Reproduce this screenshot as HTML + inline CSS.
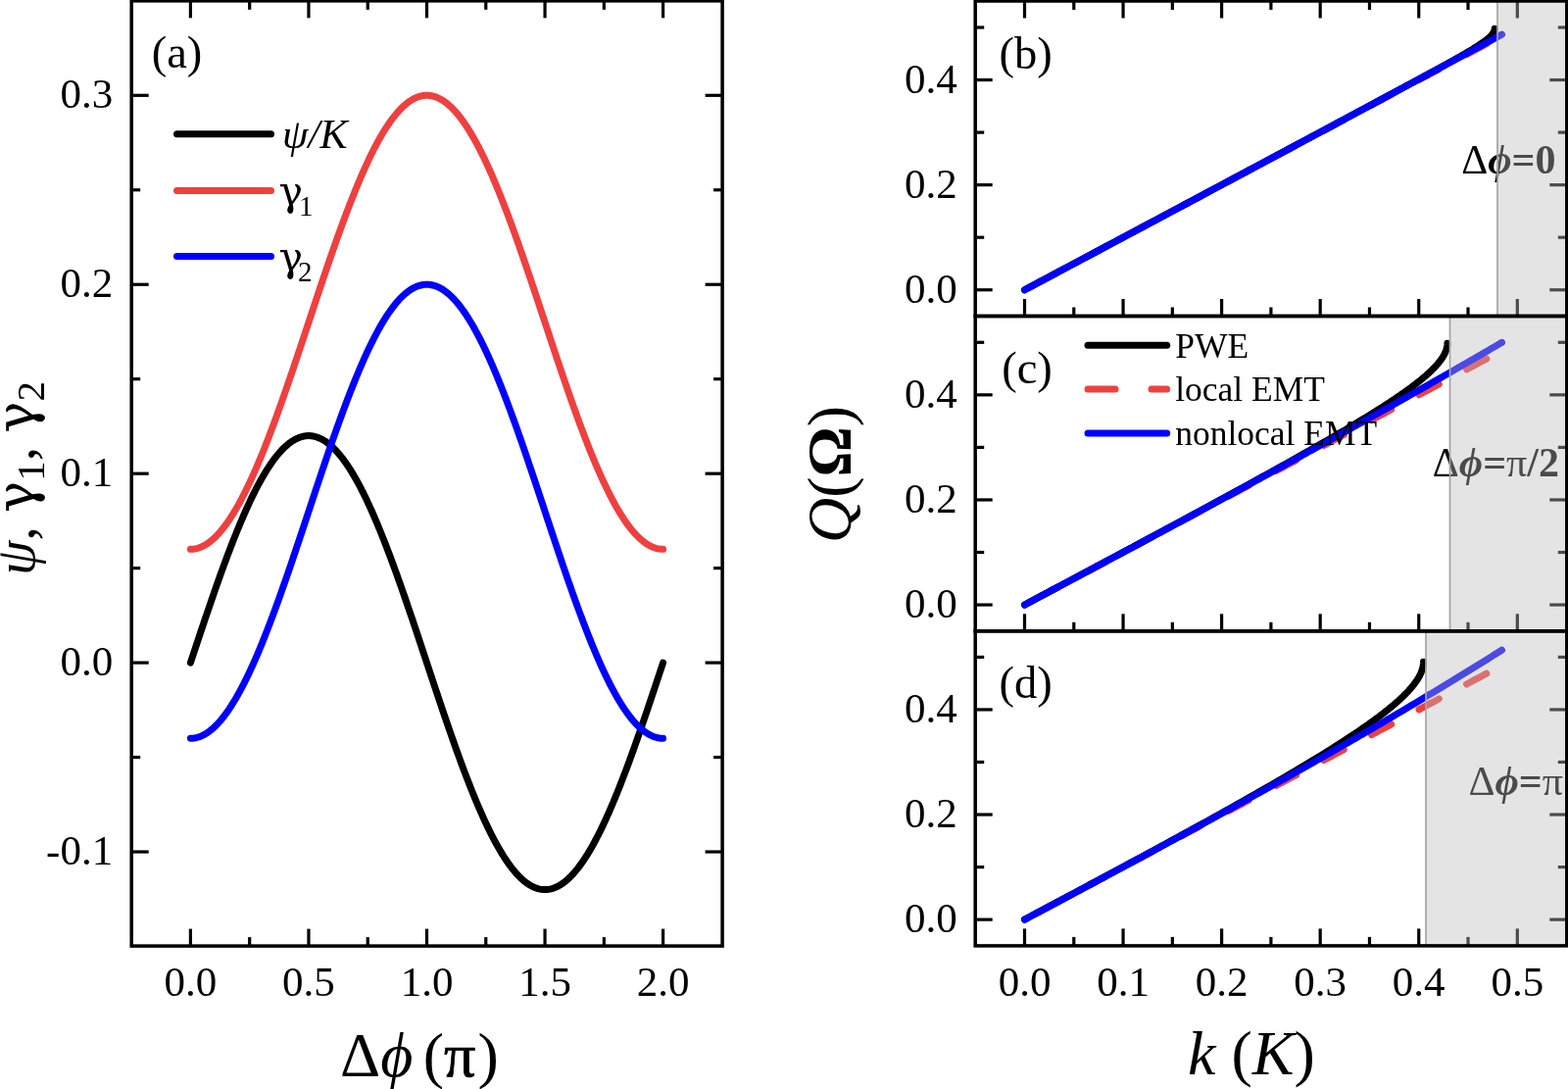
<!DOCTYPE html>
<html><head><meta charset="utf-8"><title>figure</title>
<style>html,body{margin:0;padding:0;background:#fff;}svg{display:block;}</style>
</head><body>
<svg width="1600" height="1111" viewBox="0 0 1600 1111">
<rect width="1600" height="1111" fill="#fff"/>
<g font-family="'Liberation Serif','Times New Roman',serif" fill="#000">
<line x1="194.4" y1="965.1" x2="194.4" y2="947.6" stroke="#000" stroke-width="3.2" stroke-linecap="butt"/>
<line x1="194.4" y1="0.85" x2="194.4" y2="18.35" stroke="#000" stroke-width="3.2" stroke-linecap="butt"/>
<line x1="254.68" y1="965.1" x2="254.68" y2="956.1" stroke="#000" stroke-width="3.2" stroke-linecap="butt"/>
<line x1="254.68" y1="0.85" x2="254.68" y2="9.85" stroke="#000" stroke-width="3.2" stroke-linecap="butt"/>
<line x1="314.95" y1="965.1" x2="314.95" y2="947.6" stroke="#000" stroke-width="3.2" stroke-linecap="butt"/>
<line x1="314.95" y1="0.85" x2="314.95" y2="18.35" stroke="#000" stroke-width="3.2" stroke-linecap="butt"/>
<line x1="375.23" y1="965.1" x2="375.23" y2="956.1" stroke="#000" stroke-width="3.2" stroke-linecap="butt"/>
<line x1="375.23" y1="0.85" x2="375.23" y2="9.85" stroke="#000" stroke-width="3.2" stroke-linecap="butt"/>
<line x1="435.5" y1="965.1" x2="435.5" y2="947.6" stroke="#000" stroke-width="3.2" stroke-linecap="butt"/>
<line x1="435.5" y1="0.85" x2="435.5" y2="18.35" stroke="#000" stroke-width="3.2" stroke-linecap="butt"/>
<line x1="495.77" y1="965.1" x2="495.77" y2="956.1" stroke="#000" stroke-width="3.2" stroke-linecap="butt"/>
<line x1="495.77" y1="0.85" x2="495.77" y2="9.85" stroke="#000" stroke-width="3.2" stroke-linecap="butt"/>
<line x1="556.05" y1="965.1" x2="556.05" y2="947.6" stroke="#000" stroke-width="3.2" stroke-linecap="butt"/>
<line x1="556.05" y1="0.85" x2="556.05" y2="18.35" stroke="#000" stroke-width="3.2" stroke-linecap="butt"/>
<line x1="616.33" y1="965.1" x2="616.33" y2="956.1" stroke="#000" stroke-width="3.2" stroke-linecap="butt"/>
<line x1="616.33" y1="0.85" x2="616.33" y2="9.85" stroke="#000" stroke-width="3.2" stroke-linecap="butt"/>
<line x1="676.6" y1="965.1" x2="676.6" y2="947.6" stroke="#000" stroke-width="3.2" stroke-linecap="butt"/>
<line x1="676.6" y1="0.85" x2="676.6" y2="18.35" stroke="#000" stroke-width="3.2" stroke-linecap="butt"/>
<line x1="134.2" y1="869.03" x2="151.7" y2="869.03" stroke="#000" stroke-width="3.2" stroke-linecap="butt"/>
<line x1="737.1" y1="869.03" x2="719.6" y2="869.03" stroke="#000" stroke-width="3.2" stroke-linecap="butt"/>
<line x1="134.2" y1="772.57" x2="143.2" y2="772.57" stroke="#000" stroke-width="3.2" stroke-linecap="butt"/>
<line x1="737.1" y1="772.57" x2="728.1" y2="772.57" stroke="#000" stroke-width="3.2" stroke-linecap="butt"/>
<line x1="134.2" y1="676.1" x2="151.7" y2="676.1" stroke="#000" stroke-width="3.2" stroke-linecap="butt"/>
<line x1="737.1" y1="676.1" x2="719.6" y2="676.1" stroke="#000" stroke-width="3.2" stroke-linecap="butt"/>
<line x1="134.2" y1="579.63" x2="143.2" y2="579.63" stroke="#000" stroke-width="3.2" stroke-linecap="butt"/>
<line x1="737.1" y1="579.63" x2="728.1" y2="579.63" stroke="#000" stroke-width="3.2" stroke-linecap="butt"/>
<line x1="134.2" y1="483.17" x2="151.7" y2="483.17" stroke="#000" stroke-width="3.2" stroke-linecap="butt"/>
<line x1="737.1" y1="483.17" x2="719.6" y2="483.17" stroke="#000" stroke-width="3.2" stroke-linecap="butt"/>
<line x1="134.2" y1="386.7" x2="143.2" y2="386.7" stroke="#000" stroke-width="3.2" stroke-linecap="butt"/>
<line x1="737.1" y1="386.7" x2="728.1" y2="386.7" stroke="#000" stroke-width="3.2" stroke-linecap="butt"/>
<line x1="134.2" y1="290.24" x2="151.7" y2="290.24" stroke="#000" stroke-width="3.2" stroke-linecap="butt"/>
<line x1="737.1" y1="290.24" x2="719.6" y2="290.24" stroke="#000" stroke-width="3.2" stroke-linecap="butt"/>
<line x1="134.2" y1="193.78" x2="143.2" y2="193.78" stroke="#000" stroke-width="3.2" stroke-linecap="butt"/>
<line x1="737.1" y1="193.78" x2="728.1" y2="193.78" stroke="#000" stroke-width="3.2" stroke-linecap="butt"/>
<line x1="134.2" y1="97.31" x2="151.7" y2="97.31" stroke="#000" stroke-width="3.2" stroke-linecap="butt"/>
<line x1="737.1" y1="97.31" x2="719.6" y2="97.31" stroke="#000" stroke-width="3.2" stroke-linecap="butt"/>
<path d="M194.4 676.1 L195.61 672.46 L196.81 668.83 L198.02 665.19 L199.22 661.56 L200.43 657.94 L201.63 654.31 L202.84 650.69 L204.04 647.08 L205.25 643.48 L206.46 639.88 L207.66 636.3 L208.87 632.72 L210.07 629.15 L211.28 625.6 L212.48 622.05 L213.69 618.52 L214.89 615.01 L216.1 611.51 L217.3 608.02 L218.51 604.56 L219.72 601.11 L220.92 597.68 L222.13 594.26 L223.33 590.87 L224.54 587.5 L225.74 584.15 L226.95 580.83 L228.15 577.53 L229.36 574.25 L230.56 570.99 L231.77 567.77 L232.98 564.57 L234.18 561.39 L235.39 558.25 L236.59 555.13 L237.8 552.05 L239 548.99 L240.21 545.97 L241.41 542.98 L242.62 540.02 L243.83 537.09 L245.03 534.2 L246.24 531.35 L247.44 528.53 L248.65 525.74 L249.85 523 L251.06 520.29 L252.26 517.62 L253.47 514.99 L254.68 512.39 L255.88 509.84 L257.09 507.33 L258.29 504.86 L259.5 502.44 L260.7 500.05 L261.91 497.71 L263.11 495.42 L264.32 493.17 L265.52 490.96 L266.73 488.8 L267.94 486.69 L269.14 484.62 L270.35 482.6 L271.55 480.62 L272.76 478.7 L273.96 476.82 L275.17 475 L276.37 473.22 L277.58 471.49 L278.79 469.82 L279.99 468.19 L281.2 466.62 L282.4 465.1 L283.61 463.63 L284.81 462.21 L286.02 460.84 L287.22 459.53 L288.43 458.27 L289.63 457.07 L290.84 455.92 L292.05 454.82 L293.25 453.78 L294.46 452.79 L295.66 451.86 L296.87 450.98 L298.07 450.16 L299.28 449.39 L300.48 448.68 L301.69 448.03 L302.89 447.43 L304.1 446.89 L305.31 446.41 L306.51 445.98 L307.72 445.61 L308.92 445.3 L310.13 445.04 L311.33 444.84 L312.54 444.7 L313.74 444.61 L314.95 444.58 L316.16 444.61 L317.36 444.7 L318.57 444.84 L319.77 445.04 L320.98 445.3 L322.18 445.61 L323.39 445.98 L324.59 446.41 L325.8 446.89 L327 447.43 L328.21 448.03 L329.42 448.68 L330.62 449.39 L331.83 450.16 L333.03 450.98 L334.24 451.86 L335.44 452.79 L336.65 453.78 L337.85 454.82 L339.06 455.92 L340.27 457.07 L341.47 458.27 L342.68 459.53 L343.88 460.84 L345.09 462.21 L346.29 463.63 L347.5 465.1 L348.7 466.62 L349.91 468.19 L351.12 469.82 L352.32 471.49 L353.53 473.22 L354.73 475 L355.94 476.82 L357.14 478.7 L358.35 480.62 L359.55 482.6 L360.76 484.62 L361.96 486.69 L363.17 488.8 L364.38 490.96 L365.58 493.17 L366.79 495.42 L367.99 497.71 L369.2 500.05 L370.4 502.44 L371.61 504.86 L372.81 507.33 L374.02 509.84 L375.23 512.39 L376.43 514.99 L377.64 517.62 L378.84 520.29 L380.05 523 L381.25 525.74 L382.46 528.53 L383.66 531.35 L384.87 534.2 L386.07 537.09 L387.28 540.02 L388.49 542.98 L389.69 545.97 L390.9 548.99 L392.1 552.05 L393.31 555.13 L394.51 558.25 L395.72 561.39 L396.92 564.57 L398.13 567.77 L399.34 570.99 L400.54 574.25 L401.75 577.53 L402.95 580.83 L404.16 584.15 L405.36 587.5 L406.57 590.87 L407.77 594.26 L408.98 597.68 L410.18 601.11 L411.39 604.56 L412.6 608.02 L413.8 611.51 L415.01 615.01 L416.21 618.52 L417.42 622.05 L418.62 625.6 L419.83 629.15 L421.03 632.72 L422.24 636.3 L423.45 639.88 L424.65 643.48 L425.86 647.08 L427.06 650.69 L428.27 654.31 L429.47 657.94 L430.68 661.56 L431.88 665.19 L433.09 668.83 L434.29 672.46 L435.5 676.1 L436.71 679.74 L437.91 683.37 L439.12 687.01 L440.32 690.64 L441.53 694.26 L442.73 697.89 L443.94 701.51 L445.14 705.12 L446.35 708.72 L447.56 712.32 L448.76 715.9 L449.97 719.48 L451.17 723.05 L452.38 726.6 L453.58 730.15 L454.79 733.68 L455.99 737.19 L457.2 740.69 L458.4 744.18 L459.61 747.64 L460.82 751.09 L462.02 754.52 L463.23 757.94 L464.43 761.33 L465.64 764.7 L466.84 768.05 L468.05 771.37 L469.25 774.67 L470.46 777.95 L471.67 781.21 L472.87 784.43 L474.08 787.63 L475.28 790.81 L476.49 793.95 L477.69 797.07 L478.9 800.15 L480.1 803.21 L481.31 806.23 L482.51 809.22 L483.72 812.18 L484.93 815.11 L486.13 818 L487.34 820.85 L488.54 823.67 L489.75 826.46 L490.95 829.2 L492.16 831.91 L493.36 834.58 L494.57 837.21 L495.77 839.81 L496.98 842.36 L498.19 844.87 L499.39 847.34 L500.6 849.76 L501.8 852.15 L503.01 854.49 L504.21 856.78 L505.42 859.03 L506.62 861.24 L507.83 863.4 L509.04 865.51 L510.24 867.58 L511.45 869.6 L512.65 871.58 L513.86 873.5 L515.06 875.38 L516.27 877.2 L517.47 878.98 L518.68 880.71 L519.88 882.38 L521.09 884.01 L522.3 885.58 L523.5 887.1 L524.71 888.57 L525.91 889.99 L527.12 891.36 L528.32 892.67 L529.53 893.93 L530.73 895.13 L531.94 896.28 L533.15 897.38 L534.35 898.42 L535.56 899.41 L536.76 900.34 L537.97 901.22 L539.17 902.04 L540.38 902.81 L541.58 903.52 L542.79 904.17 L544 904.77 L545.2 905.31 L546.41 905.79 L547.61 906.22 L548.82 906.59 L550.02 906.9 L551.23 907.16 L552.43 907.36 L553.64 907.5 L554.84 907.59 L556.05 907.62 L557.26 907.59 L558.46 907.5 L559.67 907.36 L560.87 907.16 L562.08 906.9 L563.28 906.59 L564.49 906.22 L565.69 905.79 L566.9 905.31 L568.11 904.77 L569.31 904.17 L570.52 903.52 L571.72 902.81 L572.93 902.04 L574.13 901.22 L575.34 900.34 L576.54 899.41 L577.75 898.42 L578.95 897.38 L580.16 896.28 L581.37 895.13 L582.57 893.93 L583.78 892.67 L584.98 891.36 L586.19 889.99 L587.39 888.57 L588.6 887.1 L589.8 885.58 L591.01 884.01 L592.22 882.38 L593.42 880.71 L594.63 878.98 L595.83 877.2 L597.04 875.38 L598.24 873.5 L599.45 871.58 L600.65 869.6 L601.86 867.58 L603.06 865.51 L604.27 863.4 L605.48 861.24 L606.68 859.03 L607.89 856.78 L609.09 854.49 L610.3 852.15 L611.5 849.76 L612.71 847.34 L613.91 844.87 L615.12 842.36 L616.33 839.81 L617.53 837.21 L618.74 834.58 L619.94 831.91 L621.15 829.2 L622.35 826.46 L623.56 823.67 L624.76 820.85 L625.97 818 L627.17 815.11 L628.38 812.18 L629.59 809.22 L630.79 806.23 L632 803.21 L633.2 800.15 L634.41 797.07 L635.61 793.95 L636.82 790.81 L638.02 787.63 L639.23 784.43 L640.44 781.21 L641.64 777.95 L642.85 774.67 L644.05 771.37 L645.26 768.05 L646.46 764.7 L647.67 761.33 L648.87 757.94 L650.08 754.52 L651.28 751.09 L652.49 747.64 L653.7 744.18 L654.9 740.69 L656.11 737.19 L657.31 733.68 L658.52 730.15 L659.72 726.6 L660.93 723.05 L662.13 719.48 L663.34 715.9 L664.54 712.32 L665.75 708.72 L666.96 705.12 L668.16 701.51 L669.37 697.89 L670.57 694.26 L671.78 690.64 L672.98 687.01 L674.19 683.37 L675.39 679.74 L676.6 676.1" fill="none" stroke="#000" stroke-width="7.0" stroke-linecap="round" stroke-linejoin="round" />
<path d="M194.4 560.34 L195.61 560.31 L196.81 560.23 L198.02 560.08 L199.22 559.89 L200.43 559.63 L201.63 559.31 L202.84 558.94 L204.04 558.52 L205.25 558.03 L206.46 557.49 L207.66 556.89 L208.87 556.24 L210.07 555.53 L211.28 554.77 L212.48 553.95 L213.69 553.07 L214.89 552.14 L216.1 551.15 L217.3 550.11 L218.51 549.01 L219.72 547.86 L220.92 546.65 L222.13 545.4 L223.33 544.08 L224.54 542.72 L225.74 541.3 L226.95 539.83 L228.15 538.31 L229.36 536.73 L230.56 535.11 L231.77 533.43 L232.98 531.71 L234.18 529.93 L235.39 528.1 L236.59 526.23 L237.8 524.3 L239 522.33 L240.21 520.31 L241.41 518.24 L242.62 516.13 L243.83 513.97 L245.03 511.76 L246.24 509.51 L247.44 507.21 L248.65 504.87 L249.85 502.49 L251.06 500.06 L252.26 497.59 L253.47 495.08 L254.68 492.53 L255.88 489.94 L257.09 487.31 L258.29 484.64 L259.5 481.93 L260.7 479.18 L261.91 476.4 L263.11 473.58 L264.32 470.72 L265.52 467.83 L266.73 464.91 L267.94 461.95 L269.14 458.96 L270.35 455.93 L271.55 452.88 L272.76 449.79 L273.96 446.68 L275.17 443.53 L276.37 440.36 L277.58 437.16 L278.79 433.93 L279.99 430.68 L281.2 427.4 L282.4 424.1 L283.61 420.77 L284.81 417.42 L286.02 414.05 L287.22 410.66 L288.43 407.25 L289.63 403.82 L290.84 400.37 L292.05 396.9 L293.25 393.42 L294.46 389.92 L295.66 386.4 L296.87 382.87 L298.07 379.33 L299.28 375.77 L300.48 372.21 L301.69 368.63 L302.89 365.04 L304.1 361.45 L305.31 357.84 L306.51 354.23 L307.72 350.61 L308.92 346.99 L310.13 343.36 L311.33 339.73 L312.54 336.1 L313.74 332.46 L314.95 328.83 L316.16 325.19 L317.36 321.55 L318.57 317.92 L319.77 314.29 L320.98 310.66 L322.18 307.04 L323.39 303.42 L324.59 299.81 L325.8 296.21 L327 292.61 L328.21 289.02 L329.42 285.44 L330.62 281.88 L331.83 278.32 L333.03 274.78 L334.24 271.25 L335.44 267.74 L336.65 264.24 L337.85 260.75 L339.06 257.28 L340.27 253.83 L341.47 250.4 L342.68 246.99 L343.88 243.6 L345.09 240.23 L346.29 236.88 L347.5 233.55 L348.7 230.25 L349.91 226.97 L351.12 223.72 L352.32 220.49 L353.53 217.29 L354.73 214.12 L355.94 210.97 L357.14 207.86 L358.35 204.77 L359.55 201.72 L360.76 198.69 L361.96 195.7 L363.17 192.74 L364.38 189.82 L365.58 186.93 L366.79 184.07 L367.99 181.25 L369.2 178.47 L370.4 175.72 L371.61 173.01 L372.81 170.34 L374.02 167.71 L375.23 165.12 L376.43 162.57 L377.64 160.06 L378.84 157.59 L380.05 155.16 L381.25 152.78 L382.46 150.44 L383.66 148.14 L384.87 145.89 L386.07 143.69 L387.28 141.53 L388.49 139.41 L389.69 137.34 L390.9 135.32 L392.1 133.35 L393.31 131.43 L394.51 129.55 L395.72 127.72 L396.92 125.95 L398.13 124.22 L399.34 122.54 L400.54 120.92 L401.75 119.34 L402.95 117.82 L404.16 116.35 L405.36 114.93 L406.57 113.57 L407.77 112.26 L408.98 111 L410.18 109.79 L411.39 108.64 L412.6 107.54 L413.8 106.5 L415.01 105.52 L416.21 104.58 L417.42 103.71 L418.62 102.89 L419.83 102.12 L421.03 101.41 L422.24 100.76 L423.45 100.16 L424.65 99.62 L425.86 99.14 L427.06 98.71 L428.27 98.34 L429.47 98.02 L430.68 97.77 L431.88 97.57 L433.09 97.42 L434.29 97.34 L435.5 97.31 L436.71 97.34 L437.91 97.42 L439.12 97.57 L440.32 97.77 L441.53 98.02 L442.73 98.34 L443.94 98.71 L445.14 99.14 L446.35 99.62 L447.56 100.16 L448.76 100.76 L449.97 101.41 L451.17 102.12 L452.38 102.89 L453.58 103.71 L454.79 104.58 L455.99 105.52 L457.2 106.5 L458.4 107.54 L459.61 108.64 L460.82 109.79 L462.02 111 L463.23 112.26 L464.43 113.57 L465.64 114.93 L466.84 116.35 L468.05 117.82 L469.25 119.34 L470.46 120.92 L471.67 122.54 L472.87 124.22 L474.08 125.95 L475.28 127.72 L476.49 129.55 L477.69 131.43 L478.9 133.35 L480.1 135.32 L481.31 137.34 L482.51 139.41 L483.72 141.53 L484.93 143.69 L486.13 145.89 L487.34 148.14 L488.54 150.44 L489.75 152.78 L490.95 155.16 L492.16 157.59 L493.36 160.06 L494.57 162.57 L495.77 165.12 L496.98 167.71 L498.19 170.34 L499.39 173.01 L500.6 175.72 L501.8 178.47 L503.01 181.25 L504.21 184.07 L505.42 186.93 L506.62 189.82 L507.83 192.74 L509.04 195.7 L510.24 198.69 L511.45 201.72 L512.65 204.77 L513.86 207.86 L515.06 210.97 L516.27 214.12 L517.47 217.29 L518.68 220.49 L519.88 223.72 L521.09 226.97 L522.3 230.25 L523.5 233.55 L524.71 236.88 L525.91 240.23 L527.12 243.6 L528.32 246.99 L529.53 250.4 L530.73 253.83 L531.94 257.28 L533.15 260.75 L534.35 264.24 L535.56 267.74 L536.76 271.25 L537.97 274.78 L539.17 278.32 L540.38 281.88 L541.58 285.44 L542.79 289.02 L544 292.61 L545.2 296.21 L546.41 299.81 L547.61 303.42 L548.82 307.04 L550.02 310.66 L551.23 314.29 L552.43 317.92 L553.64 321.55 L554.84 325.19 L556.05 328.83 L557.26 332.46 L558.46 336.1 L559.67 339.73 L560.87 343.36 L562.08 346.99 L563.28 350.61 L564.49 354.23 L565.69 357.84 L566.9 361.45 L568.11 365.04 L569.31 368.63 L570.52 372.21 L571.72 375.77 L572.93 379.33 L574.13 382.87 L575.34 386.4 L576.54 389.92 L577.75 393.42 L578.95 396.9 L580.16 400.37 L581.37 403.82 L582.57 407.25 L583.78 410.66 L584.98 414.05 L586.19 417.42 L587.39 420.77 L588.6 424.1 L589.8 427.4 L591.01 430.68 L592.22 433.93 L593.42 437.16 L594.63 440.36 L595.83 443.53 L597.04 446.68 L598.24 449.79 L599.45 452.88 L600.65 455.93 L601.86 458.96 L603.06 461.95 L604.27 464.91 L605.48 467.83 L606.68 470.72 L607.89 473.58 L609.09 476.4 L610.3 479.18 L611.5 481.93 L612.71 484.64 L613.91 487.31 L615.12 489.94 L616.33 492.53 L617.53 495.08 L618.74 497.59 L619.94 500.06 L621.15 502.49 L622.35 504.87 L623.56 507.21 L624.76 509.51 L625.97 511.76 L627.17 513.97 L628.38 516.13 L629.59 518.24 L630.79 520.31 L632 522.33 L633.2 524.3 L634.41 526.23 L635.61 528.1 L636.82 529.93 L638.02 531.71 L639.23 533.43 L640.44 535.11 L641.64 536.73 L642.85 538.31 L644.05 539.83 L645.26 541.3 L646.46 542.72 L647.67 544.08 L648.87 545.4 L650.08 546.65 L651.28 547.86 L652.49 549.01 L653.7 550.11 L654.9 551.15 L656.11 552.14 L657.31 553.07 L658.52 553.95 L659.72 554.77 L660.93 555.53 L662.13 556.24 L663.34 556.89 L664.54 557.49 L665.75 558.03 L666.96 558.52 L668.16 558.94 L669.37 559.31 L670.57 559.63 L671.78 559.89 L672.98 560.08 L674.19 560.23 L675.39 560.31 L676.6 560.34" fill="none" stroke="#ef4040" stroke-width="7.0" stroke-linecap="round" stroke-linejoin="round" />
<path d="M194.4 753.27 L195.61 753.24 L196.81 753.16 L198.02 753.01 L199.22 752.82 L200.43 752.56 L201.63 752.24 L202.84 751.87 L204.04 751.45 L205.25 750.96 L206.46 750.42 L207.66 749.82 L208.87 749.17 L210.07 748.46 L211.28 747.7 L212.48 746.88 L213.69 746 L214.89 745.07 L216.1 744.08 L217.3 743.04 L218.51 741.94 L219.72 740.79 L220.92 739.58 L222.13 738.33 L223.33 737.01 L224.54 735.65 L225.74 734.23 L226.95 732.76 L228.15 731.24 L229.36 729.66 L230.56 728.04 L231.77 726.36 L232.98 724.64 L234.18 722.86 L235.39 721.03 L236.59 719.16 L237.8 717.23 L239 715.26 L240.21 713.24 L241.41 711.17 L242.62 709.06 L243.83 706.9 L245.03 704.69 L246.24 702.44 L247.44 700.14 L248.65 697.8 L249.85 695.42 L251.06 692.99 L252.26 690.52 L253.47 688.01 L254.68 685.46 L255.88 682.87 L257.09 680.24 L258.29 677.57 L259.5 674.86 L260.7 672.11 L261.91 669.33 L263.11 666.51 L264.32 663.65 L265.52 660.76 L266.73 657.84 L267.94 654.88 L269.14 651.89 L270.35 648.86 L271.55 645.81 L272.76 642.72 L273.96 639.61 L275.17 636.46 L276.37 633.29 L277.58 630.09 L278.79 626.86 L279.99 623.61 L281.2 620.33 L282.4 617.03 L283.61 613.7 L284.81 610.35 L286.02 606.98 L287.22 603.59 L288.43 600.18 L289.63 596.75 L290.84 593.3 L292.05 589.83 L293.25 586.35 L294.46 582.85 L295.66 579.33 L296.87 575.8 L298.07 572.26 L299.28 568.7 L300.48 565.14 L301.69 561.56 L302.89 557.97 L304.1 554.38 L305.31 550.77 L306.51 547.16 L307.72 543.54 L308.92 539.92 L310.13 536.29 L311.33 532.66 L312.54 529.03 L313.74 525.39 L314.95 521.76 L316.16 518.12 L317.36 514.48 L318.57 510.85 L319.77 507.22 L320.98 503.59 L322.18 499.97 L323.39 496.35 L324.59 492.74 L325.8 489.14 L327 485.54 L328.21 481.95 L329.42 478.37 L330.62 474.81 L331.83 471.25 L333.03 467.71 L334.24 464.18 L335.44 460.67 L336.65 457.17 L337.85 453.68 L339.06 450.21 L340.27 446.76 L341.47 443.33 L342.68 439.92 L343.88 436.53 L345.09 433.16 L346.29 429.81 L347.5 426.48 L348.7 423.18 L349.91 419.9 L351.12 416.65 L352.32 413.42 L353.53 410.22 L354.73 407.05 L355.94 403.9 L357.14 400.79 L358.35 397.7 L359.55 394.65 L360.76 391.62 L361.96 388.63 L363.17 385.67 L364.38 382.75 L365.58 379.86 L366.79 377 L367.99 374.18 L369.2 371.4 L370.4 368.65 L371.61 365.94 L372.81 363.27 L374.02 360.64 L375.23 358.05 L376.43 355.5 L377.64 352.99 L378.84 350.52 L380.05 348.09 L381.25 345.71 L382.46 343.37 L383.66 341.07 L384.87 338.82 L386.07 336.62 L387.28 334.46 L388.49 332.34 L389.69 330.27 L390.9 328.25 L392.1 326.28 L393.31 324.36 L394.51 322.48 L395.72 320.65 L396.92 318.88 L398.13 317.15 L399.34 315.47 L400.54 313.85 L401.75 312.27 L402.95 310.75 L404.16 309.28 L405.36 307.86 L406.57 306.5 L407.77 305.19 L408.98 303.93 L410.18 302.72 L411.39 301.57 L412.6 300.47 L413.8 299.43 L415.01 298.45 L416.21 297.51 L417.42 296.64 L418.62 295.82 L419.83 295.05 L421.03 294.34 L422.24 293.69 L423.45 293.09 L424.65 292.55 L425.86 292.07 L427.06 291.64 L428.27 291.27 L429.47 290.95 L430.68 290.7 L431.88 290.5 L433.09 290.35 L434.29 290.27 L435.5 290.24 L436.71 290.27 L437.91 290.35 L439.12 290.5 L440.32 290.7 L441.53 290.95 L442.73 291.27 L443.94 291.64 L445.14 292.07 L446.35 292.55 L447.56 293.09 L448.76 293.69 L449.97 294.34 L451.17 295.05 L452.38 295.82 L453.58 296.64 L454.79 297.51 L455.99 298.45 L457.2 299.43 L458.4 300.47 L459.61 301.57 L460.82 302.72 L462.02 303.93 L463.23 305.19 L464.43 306.5 L465.64 307.86 L466.84 309.28 L468.05 310.75 L469.25 312.27 L470.46 313.85 L471.67 315.47 L472.87 317.15 L474.08 318.88 L475.28 320.65 L476.49 322.48 L477.69 324.36 L478.9 326.28 L480.1 328.25 L481.31 330.27 L482.51 332.34 L483.72 334.46 L484.93 336.62 L486.13 338.82 L487.34 341.07 L488.54 343.37 L489.75 345.71 L490.95 348.09 L492.16 350.52 L493.36 352.99 L494.57 355.5 L495.77 358.05 L496.98 360.64 L498.19 363.27 L499.39 365.94 L500.6 368.65 L501.8 371.4 L503.01 374.18 L504.21 377 L505.42 379.86 L506.62 382.75 L507.83 385.67 L509.04 388.63 L510.24 391.62 L511.45 394.65 L512.65 397.7 L513.86 400.79 L515.06 403.9 L516.27 407.05 L517.47 410.22 L518.68 413.42 L519.88 416.65 L521.09 419.9 L522.3 423.18 L523.5 426.48 L524.71 429.81 L525.91 433.16 L527.12 436.53 L528.32 439.92 L529.53 443.33 L530.73 446.76 L531.94 450.21 L533.15 453.68 L534.35 457.17 L535.56 460.67 L536.76 464.18 L537.97 467.71 L539.17 471.25 L540.38 474.81 L541.58 478.37 L542.79 481.95 L544 485.54 L545.2 489.14 L546.41 492.74 L547.61 496.35 L548.82 499.97 L550.02 503.59 L551.23 507.22 L552.43 510.85 L553.64 514.48 L554.84 518.12 L556.05 521.76 L557.26 525.39 L558.46 529.03 L559.67 532.66 L560.87 536.29 L562.08 539.92 L563.28 543.54 L564.49 547.16 L565.69 550.77 L566.9 554.38 L568.11 557.97 L569.31 561.56 L570.52 565.14 L571.72 568.7 L572.93 572.26 L574.13 575.8 L575.34 579.33 L576.54 582.85 L577.75 586.35 L578.95 589.83 L580.16 593.3 L581.37 596.75 L582.57 600.18 L583.78 603.59 L584.98 606.98 L586.19 610.35 L587.39 613.7 L588.6 617.03 L589.8 620.33 L591.01 623.61 L592.22 626.86 L593.42 630.09 L594.63 633.29 L595.83 636.46 L597.04 639.61 L598.24 642.72 L599.45 645.81 L600.65 648.86 L601.86 651.89 L603.06 654.88 L604.27 657.84 L605.48 660.76 L606.68 663.65 L607.89 666.51 L609.09 669.33 L610.3 672.11 L611.5 674.86 L612.71 677.57 L613.91 680.24 L615.12 682.87 L616.33 685.46 L617.53 688.01 L618.74 690.52 L619.94 692.99 L621.15 695.42 L622.35 697.8 L623.56 700.14 L624.76 702.44 L625.97 704.69 L627.17 706.9 L628.38 709.06 L629.59 711.17 L630.79 713.24 L632 715.26 L633.2 717.23 L634.41 719.16 L635.61 721.03 L636.82 722.86 L638.02 724.64 L639.23 726.36 L640.44 728.04 L641.64 729.66 L642.85 731.24 L644.05 732.76 L645.26 734.23 L646.46 735.65 L647.67 737.01 L648.87 738.33 L650.08 739.58 L651.28 740.79 L652.49 741.94 L653.7 743.04 L654.9 744.08 L656.11 745.07 L657.31 746 L658.52 746.88 L659.72 747.7 L660.93 748.46 L662.13 749.17 L663.34 749.82 L664.54 750.42 L665.75 750.96 L666.96 751.45 L668.16 751.87 L669.37 752.24 L670.57 752.56 L671.78 752.82 L672.98 753.01 L674.19 753.16 L675.39 753.24 L676.6 753.27" fill="none" stroke="#0000ff" stroke-width="7.0" stroke-linecap="round" stroke-linejoin="round" />
<rect x="134.2" y="0.85" width="602.9" height="964.25" fill="none" stroke="#000" stroke-width="3.5"/>
<text x="115.2" y="882.03" font-size="43.0" text-anchor="end" >-0.1</text>
<text x="115.2" y="689.1" font-size="43.0" text-anchor="end" >0.0</text>
<text x="115.2" y="496.17" font-size="43.0" text-anchor="end" >0.1</text>
<text x="115.2" y="303.24" font-size="43.0" text-anchor="end" >0.2</text>
<text x="115.2" y="110.31" font-size="43.0" text-anchor="end" >0.3</text>
<text x="194.4" y="1016.4" font-size="43.0" text-anchor="middle" >0.0</text>
<text x="314.95" y="1016.4" font-size="43.0" text-anchor="middle" >0.5</text>
<text x="435.5" y="1016.4" font-size="43.0" text-anchor="middle" >1.0</text>
<text x="556.05" y="1016.4" font-size="43.0" text-anchor="middle" >1.5</text>
<text x="676.6" y="1016.4" font-size="43.0" text-anchor="middle" >2.0</text>
<text x="206.3" y="68.8" font-size="46.5" text-anchor="end" >(a)</text>
<path d="M180.5 136.7 L276.5 136.7" fill="none" stroke="#000" stroke-width="7.0" stroke-linecap="round" stroke-linejoin="round" />
<path d="M180.5 194.4 L276.5 194.4" fill="none" stroke="#ef4040" stroke-width="7.0" stroke-linecap="round" stroke-linejoin="round" />
<path d="M180.5 261.5 L276.5 261.5" fill="none" stroke="#0000ff" stroke-width="7.0" stroke-linecap="round" stroke-linejoin="round" />
<text x="288" y="151.25" font-size="42.5" text-anchor="start" ><tspan font-style="italic">ψ/K</tspan></text>
<text x="284.5" y="208.9" font-size="42.5" text-anchor="start" ><tspan font-family="DejaVu Serif, serif" font-size="41">γ</tspan><tspan font-size="29" dx="-4" dy="11">1</tspan></text>
<text x="284.5" y="276" font-size="42.5" text-anchor="start" ><tspan font-family="DejaVu Serif, serif" font-size="41">γ</tspan><tspan font-size="29" dx="-5" dy="11">2</tspan></text>
<text x="347" y="1097.5" font-size="64" text-anchor="start" >Δ<tspan font-style="italic">ϕ</tspan><tspan dx="10.5">(</tspan><tspan stroke="#000" stroke-width="0.7">π</tspan><tspan dx="2">)</tspan></text>
<text x="0" y="0" font-size="57" text-anchor="middle" transform="translate(35 488) rotate(-90)"><tspan font-style="italic">ψ</tspan>, <tspan font-family="DejaVu Serif, serif" font-size="54">γ</tspan><tspan font-size="41" dy="10">1</tspan><tspan dy="-10">, </tspan><tspan font-family="DejaVu Serif, serif" font-size="54">γ</tspan><tspan font-size="41" dy="10">2</tspan></text>
<line x1="1045.5" y1="322.5" x2="1045.5" y2="305" stroke="#000" stroke-width="3.2" stroke-linecap="butt"/>
<line x1="1045.5" y1="1" x2="1045.5" y2="18.5" stroke="#000" stroke-width="3.2" stroke-linecap="butt"/>
<line x1="1095.78" y1="322.5" x2="1095.78" y2="313.5" stroke="#000" stroke-width="3.2" stroke-linecap="butt"/>
<line x1="1095.78" y1="1" x2="1095.78" y2="10" stroke="#000" stroke-width="3.2" stroke-linecap="butt"/>
<line x1="1146.06" y1="322.5" x2="1146.06" y2="305" stroke="#000" stroke-width="3.2" stroke-linecap="butt"/>
<line x1="1146.06" y1="1" x2="1146.06" y2="18.5" stroke="#000" stroke-width="3.2" stroke-linecap="butt"/>
<line x1="1196.34" y1="322.5" x2="1196.34" y2="313.5" stroke="#000" stroke-width="3.2" stroke-linecap="butt"/>
<line x1="1196.34" y1="1" x2="1196.34" y2="10" stroke="#000" stroke-width="3.2" stroke-linecap="butt"/>
<line x1="1246.62" y1="322.5" x2="1246.62" y2="305" stroke="#000" stroke-width="3.2" stroke-linecap="butt"/>
<line x1="1246.62" y1="1" x2="1246.62" y2="18.5" stroke="#000" stroke-width="3.2" stroke-linecap="butt"/>
<line x1="1296.9" y1="322.5" x2="1296.9" y2="313.5" stroke="#000" stroke-width="3.2" stroke-linecap="butt"/>
<line x1="1296.9" y1="1" x2="1296.9" y2="10" stroke="#000" stroke-width="3.2" stroke-linecap="butt"/>
<line x1="1347.18" y1="322.5" x2="1347.18" y2="305" stroke="#000" stroke-width="3.2" stroke-linecap="butt"/>
<line x1="1347.18" y1="1" x2="1347.18" y2="18.5" stroke="#000" stroke-width="3.2" stroke-linecap="butt"/>
<line x1="1397.46" y1="322.5" x2="1397.46" y2="313.5" stroke="#000" stroke-width="3.2" stroke-linecap="butt"/>
<line x1="1397.46" y1="1" x2="1397.46" y2="10" stroke="#000" stroke-width="3.2" stroke-linecap="butt"/>
<line x1="1447.74" y1="322.5" x2="1447.74" y2="305" stroke="#000" stroke-width="3.2" stroke-linecap="butt"/>
<line x1="1447.74" y1="1" x2="1447.74" y2="18.5" stroke="#000" stroke-width="3.2" stroke-linecap="butt"/>
<line x1="1498.02" y1="322.5" x2="1498.02" y2="313.5" stroke="#000" stroke-width="3.2" stroke-linecap="butt"/>
<line x1="1498.02" y1="1" x2="1498.02" y2="10" stroke="#000" stroke-width="3.2" stroke-linecap="butt"/>
<line x1="1548.3" y1="322.5" x2="1548.3" y2="305" stroke="#000" stroke-width="3.2" stroke-linecap="butt"/>
<line x1="1548.3" y1="1" x2="1548.3" y2="18.5" stroke="#000" stroke-width="3.2" stroke-linecap="butt"/>
<line x1="995.2" y1="295.75" x2="1012.7" y2="295.75" stroke="#000" stroke-width="3.2" stroke-linecap="butt"/>
<line x1="1598.8" y1="295.75" x2="1581.3" y2="295.75" stroke="#000" stroke-width="3.2" stroke-linecap="butt"/>
<line x1="995.2" y1="242.2" x2="1004.2" y2="242.2" stroke="#000" stroke-width="3.2" stroke-linecap="butt"/>
<line x1="1598.8" y1="242.2" x2="1589.8" y2="242.2" stroke="#000" stroke-width="3.2" stroke-linecap="butt"/>
<line x1="995.2" y1="188.65" x2="1012.7" y2="188.65" stroke="#000" stroke-width="3.2" stroke-linecap="butt"/>
<line x1="1598.8" y1="188.65" x2="1581.3" y2="188.65" stroke="#000" stroke-width="3.2" stroke-linecap="butt"/>
<line x1="995.2" y1="135.1" x2="1004.2" y2="135.1" stroke="#000" stroke-width="3.2" stroke-linecap="butt"/>
<line x1="1598.8" y1="135.1" x2="1589.8" y2="135.1" stroke="#000" stroke-width="3.2" stroke-linecap="butt"/>
<line x1="995.2" y1="81.55" x2="1012.7" y2="81.55" stroke="#000" stroke-width="3.2" stroke-linecap="butt"/>
<line x1="1598.8" y1="81.55" x2="1581.3" y2="81.55" stroke="#000" stroke-width="3.2" stroke-linecap="butt"/>
<line x1="995.2" y1="28" x2="1004.2" y2="28" stroke="#000" stroke-width="3.2" stroke-linecap="butt"/>
<line x1="1598.8" y1="28" x2="1589.8" y2="28" stroke="#000" stroke-width="3.2" stroke-linecap="butt"/>
<path d="M1045.5 295.75 L1047.95 294.45 L1050.39 293.14 L1052.84 291.84 L1055.29 290.54 L1057.74 289.23 L1060.18 287.93 L1062.63 286.63 L1065.08 285.32 L1067.53 284.02 L1069.97 282.72 L1072.42 281.41 L1074.87 280.11 L1077.31 278.81 L1079.76 277.5 L1082.21 276.2 L1084.66 274.9 L1087.1 273.6 L1089.55 272.29 L1092 270.99 L1094.45 269.69 L1096.89 268.38 L1099.34 267.08 L1101.79 265.78 L1104.24 264.47 L1106.68 263.17 L1109.13 261.87 L1111.58 260.56 L1114.02 259.26 L1116.47 257.96 L1118.92 256.65 L1121.37 255.35 L1123.81 254.05 L1126.26 252.74 L1128.71 251.44 L1131.16 250.14 L1133.6 248.83 L1136.05 247.53 L1138.5 246.23 L1140.94 244.92 L1143.39 243.62 L1145.84 242.32 L1148.29 241.01 L1150.73 239.71 L1153.18 238.41 L1155.63 237.1 L1158.08 235.8 L1160.52 234.5 L1162.97 233.19 L1165.42 231.89 L1167.86 230.59 L1170.31 229.29 L1172.76 227.98 L1175.21 226.68 L1177.65 225.38 L1180.1 224.07 L1182.55 222.77 L1185 221.47 L1187.44 220.16 L1189.89 218.86 L1192.34 217.56 L1194.79 216.25 L1197.23 214.95 L1199.68 213.65 L1202.13 212.34 L1204.57 211.04 L1207.02 209.74 L1209.47 208.43 L1211.92 207.13 L1214.36 205.83 L1216.81 204.52 L1219.26 203.22 L1221.71 201.92 L1224.15 200.61 L1226.6 199.31 L1229.05 198.01 L1231.49 196.7 L1233.94 195.4 L1236.39 194.1 L1238.84 192.79 L1241.28 191.49 L1243.73 190.19 L1246.18 188.89 L1248.63 187.58 L1251.07 186.28 L1253.52 184.98 L1255.97 183.67 L1258.41 182.37 L1260.86 181.07 L1263.31 179.76 L1265.76 178.46 L1268.2 177.16 L1270.65 175.85 L1273.1 174.55 L1275.55 173.25 L1277.99 171.94 L1280.44 170.64 L1282.89 169.34 L1285.34 168.03 L1287.78 166.73 L1290.23 165.43 L1292.68 164.12 L1295.12 162.82 L1297.57 161.52 L1300.02 160.21 L1302.47 158.91 L1304.91 157.61 L1307.36 156.3 L1309.81 155 L1312.26 153.7 L1314.7 152.39 L1317.15 151.09 L1319.6 149.79 L1322.04 148.49 L1324.49 147.18 L1326.94 145.88 L1329.39 144.58 L1331.83 143.27 L1334.28 141.97 L1336.73 140.67 L1339.18 139.36 L1341.62 138.06 L1344.07 136.76 L1346.52 135.45 L1348.96 134.15 L1351.41 132.85 L1353.86 131.54 L1356.31 130.24 L1358.75 128.94 L1361.2 127.63 L1363.65 126.33 L1366.1 125.03 L1368.54 123.72 L1370.99 122.42 L1373.44 121.12 L1375.89 119.81 L1378.33 118.51 L1380.78 117.21 L1383.23 115.9 L1385.67 114.6 L1388.12 113.3 L1390.57 111.99 L1393.02 110.69 L1395.46 109.39 L1397.91 108.08 L1400.36 106.78 L1402.81 105.48 L1405.25 104.18 L1407.7 102.87 L1410.15 101.57 L1412.59 100.27 L1415.04 98.96 L1417.49 97.66 L1419.94 96.36 L1422.38 95.05 L1424.83 93.75 L1427.28 92.45 L1429.73 91.14 L1432.17 89.84 L1434.62 88.54 L1437.07 87.23 L1439.51 85.93 L1441.96 84.63 L1444.41 83.32 L1446.86 82.02 L1449.3 80.72 L1451.75 79.41 L1454.2 78.11 L1456.65 76.81 L1459.09 75.5 L1461.54 74.2 L1463.99 72.9 L1466.44 71.59 L1468.88 70.29 L1471.33 68.99 L1473.78 67.68 L1476.22 66.38 L1478.67 65.08 L1481.12 63.78 L1483.57 62.47 L1486.01 61.17 L1488.46 59.87 L1490.91 58.56 L1493.36 57.26 L1495.8 55.96 L1498.25 54.65 L1500.7 53.35 L1503.14 52.05 L1505.59 50.74 L1508.04 49.44 L1510.49 48.14 L1512.93 46.83 L1515.38 45.53 L1517.83 44.23 L1520.28 42.92 L1522.72 41.62 L1525.17 40.32 L1527.62 39.01 L1530.06 37.71 L1532.51 36.41" fill="none" stroke="#ef4040" stroke-width="7.0" stroke-linecap="round" stroke-linejoin="round" stroke-dasharray="23 32" stroke-dashoffset="39"/>
<path d="M1045.5 295.75 L1051.93 292.32 L1058.37 288.9 L1064.8 285.47 L1071.24 282.04 L1077.67 278.62 L1084.1 275.19 L1090.54 271.77 L1096.97 268.34 L1103.4 264.91 L1109.84 261.49 L1116.27 258.06 L1122.7 254.63 L1129.13 251.21 L1135.56 247.78 L1141.99 244.36 L1148.42 240.93 L1154.85 237.5 L1161.28 234.08 L1167.71 230.65 L1174.14 227.22 L1180.57 223.8 L1186.99 220.37 L1193.42 216.95 L1199.85 213.52 L1206.27 210.09 L1212.7 206.67 L1219.12 203.24 L1225.54 199.81 L1231.96 196.39 L1238.38 192.96 L1244.8 189.53 L1251.22 186.11 L1257.64 182.68 L1264.05 179.26 L1270.47 175.83 L1276.88 172.4 L1283.3 168.98 L1289.71 165.55 L1296.12 162.12 L1302.53 158.7 L1308.94 155.27 L1315.35 151.85 L1321.75 148.42 L1328.16 144.99 L1334.56 141.57 L1340.96 138.14 L1347.36 134.71 L1353.76 131.29 L1360.16 127.86 L1366.55 124.44 L1372.94 121.01 L1379.34 117.58 L1385.73 114.16 L1392.12 110.73 L1398.5 107.3 L1404.88 103.88 L1411.26 100.45 L1417.64 97.03 L1424.02 93.6 L1425.02 93.06 L1426.02 92.52 L1427.03 91.98 L1428.03 91.44 L1429.03 90.9 L1430.04 90.36 L1431.04 89.82 L1432.04 89.28 L1433.05 88.74 L1434.05 88.2 L1435.05 87.66 L1436.05 87.12 L1437.06 86.58 L1438.06 86.04 L1439.06 85.5 L1440.06 84.96 L1441.06 84.42 L1442.06 83.88 L1443.06 83.34 L1444.06 82.8 L1445.06 82.26 L1446.06 81.72 L1447.06 81.18 L1448.06 80.64 L1449.06 80.1 L1450.06 79.56 L1451.06 79.02 L1452.06 78.48 L1453.05 77.94 L1454.05 77.4 L1455.05 76.86 L1456.04 76.32 L1457.04 75.78 L1458.03 75.24 L1459.03 74.7 L1460.02 74.16 L1461.01 73.62 L1462.01 73.08 L1463 72.54 L1463.99 72 L1464.98 71.46 L1465.97 70.92 L1466.96 70.38 L1467.94 69.84 L1468.93 69.3 L1469.92 68.76 L1470.9 68.22 L1471.88 67.68 L1472.87 67.14 L1473.85 66.6 L1474.83 66.06 L1475.81 65.52 L1476.78 64.98 L1477.76 64.44 L1478.73 63.9 L1479.71 63.36 L1480.68 62.82 L1481.65 62.28 L1482.61 61.74 L1483.58 61.2 L1484.54 60.66 L1485.5 60.12 L1486.46 59.58 L1487.41 59.04 L1488.37 58.5 L1489.32 57.96 L1490.26 57.42 L1491.2 56.88 L1492.14 56.34 L1493.08 55.8 L1494.01 55.26 L1494.94 54.72 L1495.87 54.18 L1496.79 53.64 L1497.7 53.1 L1498.61 52.56 L1499.52 52.02 L1500.42 51.48 L1501.31 50.94 L1502.2 50.4 L1503.08 49.86 L1503.95 49.32 L1504.82 48.78 L1505.68 48.24 L1506.53 47.7 L1507.38 47.16 L1508.21 46.62 L1509.03 46.08 L1509.85 45.54 L1510.65 45 L1511.44 44.46 L1512.22 43.92 L1512.99 43.38 L1513.75 42.84 L1514.49 42.3 L1515.21 41.76 L1515.92 41.22 L1516.62 40.68 L1517.3 40.14 L1517.95 39.6 L1518.59 39.06 L1519.21 38.52 L1519.81 37.98 L1520.38 37.44 L1520.93 36.9 L1521.46 36.36 L1521.95 35.82 L1522.42 35.28 L1522.86 34.74 L1523.27 34.2 L1523.64 33.66 L1523.98 33.12 L1524.28 32.58 L1524.54 32.04 L1524.76 31.5 L1524.94 30.96 L1525.07 30.42 L1525.14 29.88 L1525.17 29.34" fill="none" stroke="#000" stroke-width="7.0" stroke-linecap="round" stroke-linejoin="round" />
<path d="M1045.5 295.75 L1047.95 294.45 L1050.39 293.14 L1052.84 291.84 L1055.29 290.54 L1057.74 289.23 L1060.18 287.93 L1062.63 286.63 L1065.08 285.32 L1067.53 284.02 L1069.97 282.72 L1072.42 281.41 L1074.87 280.11 L1077.31 278.81 L1079.76 277.5 L1082.21 276.2 L1084.66 274.9 L1087.1 273.59 L1089.55 272.29 L1092 270.99 L1094.45 269.68 L1096.89 268.38 L1099.34 267.08 L1101.79 265.77 L1104.24 264.47 L1106.68 263.17 L1109.13 261.86 L1111.58 260.56 L1114.02 259.26 L1116.47 257.95 L1118.92 256.65 L1121.37 255.35 L1123.81 254.04 L1126.26 252.74 L1128.71 251.43 L1131.16 250.13 L1133.6 248.83 L1136.05 247.52 L1138.5 246.22 L1140.94 244.91 L1143.39 243.61 L1145.84 242.31 L1148.29 241 L1150.73 239.7 L1153.18 238.39 L1155.63 237.09 L1158.08 235.79 L1160.52 234.48 L1162.97 233.18 L1165.42 231.87 L1167.86 230.57 L1170.31 229.26 L1172.76 227.96 L1175.21 226.66 L1177.65 225.35 L1180.1 224.05 L1182.55 222.74 L1185 221.44 L1187.44 220.13 L1189.89 218.83 L1192.34 217.52 L1194.79 216.22 L1197.23 214.91 L1199.68 213.61 L1202.13 212.3 L1204.57 211 L1207.02 209.69 L1209.47 208.39 L1211.92 207.08 L1214.36 205.78 L1216.81 204.47 L1219.26 203.17 L1221.71 201.86 L1224.15 200.55 L1226.6 199.25 L1229.05 197.94 L1231.49 196.64 L1233.94 195.33 L1236.39 194.02 L1238.84 192.72 L1241.28 191.41 L1243.73 190.11 L1246.18 188.8 L1248.63 187.49 L1251.07 186.19 L1253.52 184.88 L1255.97 183.57 L1258.41 182.27 L1260.86 180.96 L1263.31 179.65 L1265.76 178.35 L1268.2 177.04 L1270.65 175.73 L1273.1 174.43 L1275.55 173.12 L1277.99 171.81 L1280.44 170.5 L1282.89 169.2 L1285.34 167.89 L1287.78 166.58 L1290.23 165.27 L1292.68 163.96 L1295.12 162.66 L1297.57 161.35 L1300.02 160.04 L1302.47 158.73 L1304.91 157.42 L1307.36 156.12 L1309.81 154.81 L1312.26 153.5 L1314.7 152.19 L1317.15 150.88 L1319.6 149.57 L1322.04 148.26 L1324.49 146.95 L1326.94 145.64 L1329.39 144.33 L1331.83 143.02 L1334.28 141.72 L1336.73 140.41 L1339.18 139.1 L1341.62 137.79 L1344.07 136.48 L1346.52 135.17 L1348.96 133.86 L1351.41 132.54 L1353.86 131.23 L1356.31 129.92 L1358.75 128.61 L1361.2 127.3 L1363.65 125.99 L1366.1 124.68 L1368.54 123.37 L1370.99 122.06 L1373.44 120.75 L1375.89 119.43 L1378.33 118.12 L1380.78 116.81 L1383.23 115.5 L1385.67 114.19 L1388.12 112.87 L1390.57 111.56 L1393.02 110.25 L1395.46 108.94 L1397.91 107.62 L1400.36 106.31 L1402.81 105 L1405.25 103.68 L1407.7 102.37 L1410.15 101.06 L1412.59 99.74 L1415.04 98.43 L1417.49 97.12 L1419.94 95.8 L1422.38 94.49 L1424.83 93.17 L1427.28 91.86 L1429.73 90.55 L1432.17 89.23 L1434.62 87.92 L1437.07 86.6 L1439.51 85.29 L1441.96 83.97 L1444.41 82.66 L1446.86 81.34 L1449.3 80.02 L1451.75 78.71 L1454.2 77.39 L1456.65 76.08 L1459.09 74.76 L1461.54 73.44 L1463.99 72.13 L1466.44 70.81 L1468.88 69.49 L1471.33 68.17 L1473.78 66.86 L1476.22 65.54 L1478.67 64.22 L1481.12 62.9 L1483.57 61.59 L1486.01 60.27 L1488.46 58.95 L1490.91 57.63 L1493.36 56.31 L1495.8 54.99 L1498.25 53.68 L1500.7 52.36 L1503.14 51.04 L1505.59 49.72 L1508.04 48.4 L1510.49 47.08 L1512.93 45.76 L1515.38 44.44 L1517.83 43.12 L1520.28 41.8 L1522.72 40.48 L1525.17 39.15 L1527.62 37.83 L1530.06 36.51 L1532.51 35.19" fill="none" stroke="#0000ff" stroke-width="7.0" stroke-linecap="round" stroke-linejoin="round" />
<text x="1073.8" y="69.9" font-size="46.5" text-anchor="end" >(b)</text>
<text x="1587.5" y="176.9" font-size="42" text-anchor="end" font-weight="bold"><tspan font-weight="normal">Δ</tspan><tspan font-style="italic">ϕ</tspan>=0</text>
<rect x="1528" y="1" width="70.8" height="321.5" fill="#bbb" fill-opacity="0.4"/>
<line x1="1528" y1="1" x2="1528" y2="322.5" stroke="#a4a4a4" stroke-width="1.7" stroke-linecap="butt"/>
<text x="976.7" y="308.75" font-size="43.0" text-anchor="end" >0.0</text>
<text x="976.7" y="201.65" font-size="43.0" text-anchor="end" >0.2</text>
<text x="976.7" y="94.55" font-size="43.0" text-anchor="end" >0.4</text>
<line x1="1045.5" y1="643.8" x2="1045.5" y2="626.3" stroke="#000" stroke-width="3.2" stroke-linecap="butt"/>
<line x1="1095.78" y1="643.8" x2="1095.78" y2="634.8" stroke="#000" stroke-width="3.2" stroke-linecap="butt"/>
<line x1="1146.06" y1="643.8" x2="1146.06" y2="626.3" stroke="#000" stroke-width="3.2" stroke-linecap="butt"/>
<line x1="1196.34" y1="643.8" x2="1196.34" y2="634.8" stroke="#000" stroke-width="3.2" stroke-linecap="butt"/>
<line x1="1246.62" y1="643.8" x2="1246.62" y2="626.3" stroke="#000" stroke-width="3.2" stroke-linecap="butt"/>
<line x1="1296.9" y1="643.8" x2="1296.9" y2="634.8" stroke="#000" stroke-width="3.2" stroke-linecap="butt"/>
<line x1="1347.18" y1="643.8" x2="1347.18" y2="626.3" stroke="#000" stroke-width="3.2" stroke-linecap="butt"/>
<line x1="1397.46" y1="643.8" x2="1397.46" y2="634.8" stroke="#000" stroke-width="3.2" stroke-linecap="butt"/>
<line x1="1447.74" y1="643.8" x2="1447.74" y2="626.3" stroke="#000" stroke-width="3.2" stroke-linecap="butt"/>
<line x1="1498.02" y1="643.8" x2="1498.02" y2="634.8" stroke="#000" stroke-width="3.2" stroke-linecap="butt"/>
<line x1="1548.3" y1="643.8" x2="1548.3" y2="626.3" stroke="#000" stroke-width="3.2" stroke-linecap="butt"/>
<line x1="995.2" y1="617.05" x2="1012.7" y2="617.05" stroke="#000" stroke-width="3.2" stroke-linecap="butt"/>
<line x1="1598.8" y1="617.05" x2="1581.3" y2="617.05" stroke="#000" stroke-width="3.2" stroke-linecap="butt"/>
<line x1="995.2" y1="563.5" x2="1004.2" y2="563.5" stroke="#000" stroke-width="3.2" stroke-linecap="butt"/>
<line x1="1598.8" y1="563.5" x2="1589.8" y2="563.5" stroke="#000" stroke-width="3.2" stroke-linecap="butt"/>
<line x1="995.2" y1="509.95" x2="1012.7" y2="509.95" stroke="#000" stroke-width="3.2" stroke-linecap="butt"/>
<line x1="1598.8" y1="509.95" x2="1581.3" y2="509.95" stroke="#000" stroke-width="3.2" stroke-linecap="butt"/>
<line x1="995.2" y1="456.4" x2="1004.2" y2="456.4" stroke="#000" stroke-width="3.2" stroke-linecap="butt"/>
<line x1="1598.8" y1="456.4" x2="1589.8" y2="456.4" stroke="#000" stroke-width="3.2" stroke-linecap="butt"/>
<line x1="995.2" y1="402.85" x2="1012.7" y2="402.85" stroke="#000" stroke-width="3.2" stroke-linecap="butt"/>
<line x1="1598.8" y1="402.85" x2="1581.3" y2="402.85" stroke="#000" stroke-width="3.2" stroke-linecap="butt"/>
<line x1="995.2" y1="349.3" x2="1004.2" y2="349.3" stroke="#000" stroke-width="3.2" stroke-linecap="butt"/>
<line x1="1598.8" y1="349.3" x2="1589.8" y2="349.3" stroke="#000" stroke-width="3.2" stroke-linecap="butt"/>
<path d="M1045.5 617.05 L1047.95 615.75 L1050.39 614.44 L1052.84 613.14 L1055.29 611.84 L1057.74 610.53 L1060.18 609.23 L1062.63 607.93 L1065.08 606.62 L1067.53 605.32 L1069.97 604.02 L1072.42 602.71 L1074.87 601.41 L1077.31 600.11 L1079.76 598.8 L1082.21 597.5 L1084.66 596.2 L1087.1 594.9 L1089.55 593.59 L1092 592.29 L1094.45 590.99 L1096.89 589.68 L1099.34 588.38 L1101.79 587.08 L1104.24 585.77 L1106.68 584.47 L1109.13 583.17 L1111.58 581.86 L1114.02 580.56 L1116.47 579.26 L1118.92 577.95 L1121.37 576.65 L1123.81 575.35 L1126.26 574.04 L1128.71 572.74 L1131.16 571.44 L1133.6 570.13 L1136.05 568.83 L1138.5 567.53 L1140.94 566.22 L1143.39 564.92 L1145.84 563.62 L1148.29 562.31 L1150.73 561.01 L1153.18 559.71 L1155.63 558.4 L1158.08 557.1 L1160.52 555.8 L1162.97 554.49 L1165.42 553.19 L1167.86 551.89 L1170.31 550.59 L1172.76 549.28 L1175.21 547.98 L1177.65 546.68 L1180.1 545.37 L1182.55 544.07 L1185 542.77 L1187.44 541.46 L1189.89 540.16 L1192.34 538.86 L1194.79 537.55 L1197.23 536.25 L1199.68 534.95 L1202.13 533.64 L1204.57 532.34 L1207.02 531.04 L1209.47 529.73 L1211.92 528.43 L1214.36 527.13 L1216.81 525.82 L1219.26 524.52 L1221.71 523.22 L1224.15 521.91 L1226.6 520.61 L1229.05 519.31 L1231.49 518 L1233.94 516.7 L1236.39 515.4 L1238.84 514.09 L1241.28 512.79 L1243.73 511.49 L1246.18 510.19 L1248.63 508.88 L1251.07 507.58 L1253.52 506.28 L1255.97 504.97 L1258.41 503.67 L1260.86 502.37 L1263.31 501.06 L1265.76 499.76 L1268.2 498.46 L1270.65 497.15 L1273.1 495.85 L1275.55 494.55 L1277.99 493.24 L1280.44 491.94 L1282.89 490.64 L1285.34 489.33 L1287.78 488.03 L1290.23 486.73 L1292.68 485.42 L1295.12 484.12 L1297.57 482.82 L1300.02 481.51 L1302.47 480.21 L1304.91 478.91 L1307.36 477.6 L1309.81 476.3 L1312.26 475 L1314.7 473.69 L1317.15 472.39 L1319.6 471.09 L1322.04 469.79 L1324.49 468.48 L1326.94 467.18 L1329.39 465.88 L1331.83 464.57 L1334.28 463.27 L1336.73 461.97 L1339.18 460.66 L1341.62 459.36 L1344.07 458.06 L1346.52 456.75 L1348.96 455.45 L1351.41 454.15 L1353.86 452.84 L1356.31 451.54 L1358.75 450.24 L1361.2 448.93 L1363.65 447.63 L1366.1 446.33 L1368.54 445.02 L1370.99 443.72 L1373.44 442.42 L1375.89 441.11 L1378.33 439.81 L1380.78 438.51 L1383.23 437.2 L1385.67 435.9 L1388.12 434.6 L1390.57 433.29 L1393.02 431.99 L1395.46 430.69 L1397.91 429.38 L1400.36 428.08 L1402.81 426.78 L1405.25 425.48 L1407.7 424.17 L1410.15 422.87 L1412.59 421.57 L1415.04 420.26 L1417.49 418.96 L1419.94 417.66 L1422.38 416.35 L1424.83 415.05 L1427.28 413.75 L1429.73 412.44 L1432.17 411.14 L1434.62 409.84 L1437.07 408.53 L1439.51 407.23 L1441.96 405.93 L1444.41 404.62 L1446.86 403.32 L1449.3 402.02 L1451.75 400.71 L1454.2 399.41 L1456.65 398.11 L1459.09 396.8 L1461.54 395.5 L1463.99 394.2 L1466.44 392.89 L1468.88 391.59 L1471.33 390.29 L1473.78 388.98 L1476.22 387.68 L1478.67 386.38 L1481.12 385.08 L1483.57 383.77 L1486.01 382.47 L1488.46 381.17 L1490.91 379.86 L1493.36 378.56 L1495.8 377.26 L1498.25 375.95 L1500.7 374.65 L1503.14 373.35 L1505.59 372.04 L1508.04 370.74 L1510.49 369.44 L1512.93 368.13 L1515.38 366.83 L1517.83 365.53 L1520.28 364.22 L1522.72 362.92 L1525.17 361.62 L1527.62 360.31 L1530.06 359.01 L1532.51 357.71" fill="none" stroke="#ef4040" stroke-width="7.0" stroke-linecap="round" stroke-linejoin="round" stroke-dasharray="23 32" stroke-dashoffset="39"/>
<path d="M1045.49 617.05 L1051.93 613.62 L1058.37 610.19 L1064.81 606.76 L1071.25 603.33 L1077.69 599.9 L1084.13 596.47 L1090.56 593.03 L1097 589.6 L1103.43 586.17 L1109.86 582.74 L1116.28 579.31 L1122.71 575.88 L1129.13 572.45 L1135.55 569.02 L1141.96 565.59 L1148.37 562.16 L1154.78 558.73 L1161.18 555.3 L1167.57 551.86 L1173.97 548.43 L1180.35 545 L1186.73 541.57 L1193.11 538.14 L1199.47 534.71 L1205.84 531.28 L1212.19 527.85 L1218.53 524.42 L1224.87 520.99 L1231.2 517.56 L1237.52 514.13 L1243.83 510.69 L1250.13 507.26 L1256.42 503.83 L1262.7 500.4 L1268.96 496.97 L1275.21 493.54 L1281.45 490.11 L1287.67 486.68 L1293.88 483.25 L1300.07 479.82 L1306.24 476.39 L1312.39 472.96 L1318.52 469.52 L1324.63 466.09 L1330.71 462.66 L1336.76 459.23 L1342.79 455.8 L1348.78 452.37 L1354.74 448.94 L1360.67 445.51 L1366.55 442.08 L1372.39 438.65 L1378.18 435.22 L1383.91 431.79 L1389.59 428.35 L1395.2 424.92 L1400.75 421.49 L1406.21 418.06 L1411.6 414.63 L1412.43 414.09 L1413.27 413.55 L1414.1 413.01 L1414.94 412.47 L1415.76 411.93 L1416.59 411.39 L1417.41 410.85 L1418.24 410.31 L1419.05 409.77 L1419.87 409.23 L1420.68 408.69 L1421.49 408.15 L1422.3 407.61 L1423.11 407.07 L1423.91 406.53 L1424.71 405.99 L1425.5 405.45 L1426.3 404.91 L1427.09 404.37 L1427.87 403.83 L1428.66 403.29 L1429.44 402.75 L1430.22 402.21 L1430.99 401.67 L1431.76 401.13 L1432.53 400.59 L1433.29 400.05 L1434.05 399.51 L1434.81 398.97 L1435.56 398.43 L1436.31 397.89 L1437.05 397.35 L1437.79 396.81 L1438.53 396.27 L1439.27 395.73 L1440 395.19 L1440.72 394.65 L1441.44 394.11 L1442.16 393.57 L1442.87 393.03 L1443.58 392.49 L1444.28 391.95 L1444.98 391.41 L1445.68 390.87 L1446.37 390.33 L1447.05 389.79 L1447.73 389.25 L1448.41 388.71 L1449.08 388.17 L1449.74 387.63 L1450.4 387.09 L1451.06 386.55 L1451.71 386.01 L1452.35 385.47 L1452.99 384.93 L1453.63 384.39 L1454.25 383.85 L1454.88 383.31 L1455.49 382.77 L1456.1 382.23 L1456.71 381.69 L1457.3 381.15 L1457.9 380.61 L1458.48 380.07 L1459.06 379.53 L1459.63 378.99 L1460.2 378.45 L1460.76 377.91 L1461.31 377.37 L1461.85 376.83 L1462.39 376.29 L1462.92 375.75 L1463.44 375.21 L1463.96 374.67 L1464.47 374.13 L1464.97 373.59 L1465.46 373.05 L1465.94 372.51 L1466.42 371.97 L1466.89 371.43 L1467.35 370.89 L1467.8 370.35 L1468.24 369.81 L1468.67 369.27 L1469.1 368.73 L1469.51 368.19 L1469.92 367.65 L1470.31 367.11 L1470.7 366.57 L1471.08 366.03 L1471.44 365.49 L1471.8 364.95 L1472.15 364.41 L1472.48 363.87 L1472.81 363.33 L1473.12 362.79 L1473.42 362.25 L1473.72 361.71 L1474 361.17 L1474.27 360.63 L1474.52 360.09 L1474.77 359.55 L1475 359.01 L1475.22 358.47 L1475.43 357.93 L1475.63 357.39 L1475.81 356.85 L1475.98 356.31 L1476.14 355.77 L1476.28 355.23 L1476.41 354.69 L1476.52 354.15 L1476.62 353.61 L1476.71 353.07 L1476.78 352.53 L1476.83 351.99 L1476.87 351.45 L1476.89 350.91 L1476.9 350.37" fill="none" stroke="#000" stroke-width="7.0" stroke-linecap="round" stroke-linejoin="round" />
<path d="M1045.5 617.05 L1047.95 615.75 L1050.39 614.44 L1052.84 613.14 L1055.29 611.84 L1057.74 610.53 L1060.18 609.23 L1062.63 607.93 L1065.08 606.62 L1067.53 605.32 L1069.97 604.02 L1072.42 602.71 L1074.87 601.41 L1077.31 600.11 L1079.76 598.8 L1082.21 597.5 L1084.66 596.19 L1087.1 594.89 L1089.55 593.59 L1092 592.28 L1094.45 590.98 L1096.89 589.67 L1099.34 588.37 L1101.79 587.06 L1104.24 585.76 L1106.68 584.45 L1109.13 583.15 L1111.58 581.84 L1114.02 580.54 L1116.47 579.23 L1118.92 577.92 L1121.37 576.62 L1123.81 575.31 L1126.26 574.01 L1128.71 572.7 L1131.16 571.39 L1133.6 570.08 L1136.05 568.78 L1138.5 567.47 L1140.94 566.16 L1143.39 564.85 L1145.84 563.54 L1148.29 562.24 L1150.73 560.93 L1153.18 559.62 L1155.63 558.31 L1158.08 557 L1160.52 555.69 L1162.97 554.38 L1165.42 553.07 L1167.86 551.76 L1170.31 550.45 L1172.76 549.13 L1175.21 547.82 L1177.65 546.51 L1180.1 545.2 L1182.55 543.88 L1185 542.57 L1187.44 541.26 L1189.89 539.94 L1192.34 538.63 L1194.79 537.31 L1197.23 536 L1199.68 534.68 L1202.13 533.37 L1204.57 532.05 L1207.02 530.73 L1209.47 529.42 L1211.92 528.1 L1214.36 526.78 L1216.81 525.46 L1219.26 524.14 L1221.71 522.82 L1224.15 521.5 L1226.6 520.18 L1229.05 518.86 L1231.49 517.54 L1233.94 516.22 L1236.39 514.9 L1238.84 513.57 L1241.28 512.25 L1243.73 510.93 L1246.18 509.6 L1248.63 508.28 L1251.07 506.95 L1253.52 505.63 L1255.97 504.3 L1258.41 502.97 L1260.86 501.65 L1263.31 500.32 L1265.76 498.99 L1268.2 497.66 L1270.65 496.33 L1273.1 495 L1275.55 493.67 L1277.99 492.34 L1280.44 491 L1282.89 489.67 L1285.34 488.34 L1287.78 487 L1290.23 485.67 L1292.68 484.33 L1295.12 483 L1297.57 481.66 L1300.02 480.32 L1302.47 478.99 L1304.91 477.65 L1307.36 476.31 L1309.81 474.97 L1312.26 473.63 L1314.7 472.29 L1317.15 470.95 L1319.6 469.6 L1322.04 468.26 L1324.49 466.92 L1326.94 465.57 L1329.39 464.22 L1331.83 462.88 L1334.28 461.53 L1336.73 460.18 L1339.18 458.84 L1341.62 457.49 L1344.07 456.14 L1346.52 454.78 L1348.96 453.43 L1351.41 452.08 L1353.86 450.73 L1356.31 449.37 L1358.75 448.02 L1361.2 446.66 L1363.65 445.31 L1366.1 443.95 L1368.54 442.59 L1370.99 441.23 L1373.44 439.87 L1375.89 438.51 L1378.33 437.15 L1380.78 435.79 L1383.23 434.43 L1385.67 433.06 L1388.12 431.7 L1390.57 430.33 L1393.02 428.96 L1395.46 427.6 L1397.91 426.23 L1400.36 424.86 L1402.81 423.49 L1405.25 422.12 L1407.7 420.74 L1410.15 419.37 L1412.59 418 L1415.04 416.62 L1417.49 415.25 L1419.94 413.87 L1422.38 412.49 L1424.83 411.11 L1427.28 409.73 L1429.73 408.35 L1432.17 406.97 L1434.62 405.59 L1437.07 404.2 L1439.51 402.82 L1441.96 401.43 L1444.41 400.04 L1446.86 398.66 L1449.3 397.27 L1451.75 395.88 L1454.2 394.49 L1456.65 393.09 L1459.09 391.7 L1461.54 390.31 L1463.99 388.91 L1466.44 387.51 L1468.88 386.12 L1471.33 384.72 L1473.78 383.32 L1476.22 381.92 L1478.67 380.51 L1481.12 379.11 L1483.57 377.71 L1486.01 376.3 L1488.46 374.9 L1490.91 373.49 L1493.36 372.08 L1495.8 370.67 L1498.25 369.26 L1500.7 367.84 L1503.14 366.43 L1505.59 365.02 L1508.04 363.6 L1510.49 362.18 L1512.93 360.76 L1515.38 359.35 L1517.83 357.92 L1520.28 356.5 L1522.72 355.08 L1525.17 353.65 L1527.62 352.23 L1530.06 350.8 L1532.51 349.37" fill="none" stroke="#0000ff" stroke-width="7.0" stroke-linecap="round" stroke-linejoin="round" />
<text x="1073.8" y="391.4" font-size="46.5" text-anchor="end" >(c)</text>
<text x="1591" y="485.9" font-size="42" text-anchor="end" font-weight="bold"><tspan font-weight="normal">Δ</tspan><tspan font-style="italic">ϕ</tspan>=<tspan font-weight="normal">π</tspan>/2</text>
<rect x="1479.5" y="322.5" width="119.3" height="321.3" fill="#bbb" fill-opacity="0.4"/>
<line x1="1479.5" y1="322.5" x2="1479.5" y2="643.8" stroke="#a4a4a4" stroke-width="1.7" stroke-linecap="butt"/>
<text x="976.7" y="630.05" font-size="43.0" text-anchor="end" >0.0</text>
<text x="976.7" y="522.95" font-size="43.0" text-anchor="end" >0.2</text>
<text x="976.7" y="415.85" font-size="43.0" text-anchor="end" >0.4</text>
<line x1="1045.5" y1="964.9" x2="1045.5" y2="947.4" stroke="#000" stroke-width="3.2" stroke-linecap="butt"/>
<line x1="1095.78" y1="964.9" x2="1095.78" y2="955.9" stroke="#000" stroke-width="3.2" stroke-linecap="butt"/>
<line x1="1146.06" y1="964.9" x2="1146.06" y2="947.4" stroke="#000" stroke-width="3.2" stroke-linecap="butt"/>
<line x1="1196.34" y1="964.9" x2="1196.34" y2="955.9" stroke="#000" stroke-width="3.2" stroke-linecap="butt"/>
<line x1="1246.62" y1="964.9" x2="1246.62" y2="947.4" stroke="#000" stroke-width="3.2" stroke-linecap="butt"/>
<line x1="1296.9" y1="964.9" x2="1296.9" y2="955.9" stroke="#000" stroke-width="3.2" stroke-linecap="butt"/>
<line x1="1347.18" y1="964.9" x2="1347.18" y2="947.4" stroke="#000" stroke-width="3.2" stroke-linecap="butt"/>
<line x1="1397.46" y1="964.9" x2="1397.46" y2="955.9" stroke="#000" stroke-width="3.2" stroke-linecap="butt"/>
<line x1="1447.74" y1="964.9" x2="1447.74" y2="947.4" stroke="#000" stroke-width="3.2" stroke-linecap="butt"/>
<line x1="1498.02" y1="964.9" x2="1498.02" y2="955.9" stroke="#000" stroke-width="3.2" stroke-linecap="butt"/>
<line x1="1548.3" y1="964.9" x2="1548.3" y2="947.4" stroke="#000" stroke-width="3.2" stroke-linecap="butt"/>
<line x1="995.2" y1="938.15" x2="1012.7" y2="938.15" stroke="#000" stroke-width="3.2" stroke-linecap="butt"/>
<line x1="1598.8" y1="938.15" x2="1581.3" y2="938.15" stroke="#000" stroke-width="3.2" stroke-linecap="butt"/>
<line x1="995.2" y1="884.6" x2="1004.2" y2="884.6" stroke="#000" stroke-width="3.2" stroke-linecap="butt"/>
<line x1="1598.8" y1="884.6" x2="1589.8" y2="884.6" stroke="#000" stroke-width="3.2" stroke-linecap="butt"/>
<line x1="995.2" y1="831.05" x2="1012.7" y2="831.05" stroke="#000" stroke-width="3.2" stroke-linecap="butt"/>
<line x1="1598.8" y1="831.05" x2="1581.3" y2="831.05" stroke="#000" stroke-width="3.2" stroke-linecap="butt"/>
<line x1="995.2" y1="777.5" x2="1004.2" y2="777.5" stroke="#000" stroke-width="3.2" stroke-linecap="butt"/>
<line x1="1598.8" y1="777.5" x2="1589.8" y2="777.5" stroke="#000" stroke-width="3.2" stroke-linecap="butt"/>
<line x1="995.2" y1="723.95" x2="1012.7" y2="723.95" stroke="#000" stroke-width="3.2" stroke-linecap="butt"/>
<line x1="1598.8" y1="723.95" x2="1581.3" y2="723.95" stroke="#000" stroke-width="3.2" stroke-linecap="butt"/>
<line x1="995.2" y1="670.4" x2="1004.2" y2="670.4" stroke="#000" stroke-width="3.2" stroke-linecap="butt"/>
<line x1="1598.8" y1="670.4" x2="1589.8" y2="670.4" stroke="#000" stroke-width="3.2" stroke-linecap="butt"/>
<path d="M1045.5 938.15 L1047.95 936.85 L1050.39 935.54 L1052.84 934.24 L1055.29 932.94 L1057.74 931.63 L1060.18 930.33 L1062.63 929.03 L1065.08 927.72 L1067.53 926.42 L1069.97 925.12 L1072.42 923.81 L1074.87 922.51 L1077.31 921.21 L1079.76 919.9 L1082.21 918.6 L1084.66 917.3 L1087.1 916 L1089.55 914.69 L1092 913.39 L1094.45 912.09 L1096.89 910.78 L1099.34 909.48 L1101.79 908.18 L1104.24 906.87 L1106.68 905.57 L1109.13 904.27 L1111.58 902.96 L1114.02 901.66 L1116.47 900.36 L1118.92 899.05 L1121.37 897.75 L1123.81 896.45 L1126.26 895.14 L1128.71 893.84 L1131.16 892.54 L1133.6 891.23 L1136.05 889.93 L1138.5 888.63 L1140.94 887.32 L1143.39 886.02 L1145.84 884.72 L1148.29 883.41 L1150.73 882.11 L1153.18 880.81 L1155.63 879.5 L1158.08 878.2 L1160.52 876.9 L1162.97 875.59 L1165.42 874.29 L1167.86 872.99 L1170.31 871.69 L1172.76 870.38 L1175.21 869.08 L1177.65 867.78 L1180.1 866.47 L1182.55 865.17 L1185 863.87 L1187.44 862.56 L1189.89 861.26 L1192.34 859.96 L1194.79 858.65 L1197.23 857.35 L1199.68 856.05 L1202.13 854.74 L1204.57 853.44 L1207.02 852.14 L1209.47 850.83 L1211.92 849.53 L1214.36 848.23 L1216.81 846.92 L1219.26 845.62 L1221.71 844.32 L1224.15 843.01 L1226.6 841.71 L1229.05 840.41 L1231.49 839.1 L1233.94 837.8 L1236.39 836.5 L1238.84 835.19 L1241.28 833.89 L1243.73 832.59 L1246.18 831.29 L1248.63 829.98 L1251.07 828.68 L1253.52 827.38 L1255.97 826.07 L1258.41 824.77 L1260.86 823.47 L1263.31 822.16 L1265.76 820.86 L1268.2 819.56 L1270.65 818.25 L1273.1 816.95 L1275.55 815.65 L1277.99 814.34 L1280.44 813.04 L1282.89 811.74 L1285.34 810.43 L1287.78 809.13 L1290.23 807.83 L1292.68 806.52 L1295.12 805.22 L1297.57 803.92 L1300.02 802.61 L1302.47 801.31 L1304.91 800.01 L1307.36 798.7 L1309.81 797.4 L1312.26 796.1 L1314.7 794.79 L1317.15 793.49 L1319.6 792.19 L1322.04 790.89 L1324.49 789.58 L1326.94 788.28 L1329.39 786.98 L1331.83 785.67 L1334.28 784.37 L1336.73 783.07 L1339.18 781.76 L1341.62 780.46 L1344.07 779.16 L1346.52 777.85 L1348.96 776.55 L1351.41 775.25 L1353.86 773.94 L1356.31 772.64 L1358.75 771.34 L1361.2 770.03 L1363.65 768.73 L1366.1 767.43 L1368.54 766.12 L1370.99 764.82 L1373.44 763.52 L1375.89 762.21 L1378.33 760.91 L1380.78 759.61 L1383.23 758.3 L1385.67 757 L1388.12 755.7 L1390.57 754.39 L1393.02 753.09 L1395.46 751.79 L1397.91 750.48 L1400.36 749.18 L1402.81 747.88 L1405.25 746.58 L1407.7 745.27 L1410.15 743.97 L1412.59 742.67 L1415.04 741.36 L1417.49 740.06 L1419.94 738.76 L1422.38 737.45 L1424.83 736.15 L1427.28 734.85 L1429.73 733.54 L1432.17 732.24 L1434.62 730.94 L1437.07 729.63 L1439.51 728.33 L1441.96 727.03 L1444.41 725.72 L1446.86 724.42 L1449.3 723.12 L1451.75 721.81 L1454.2 720.51 L1456.65 719.21 L1459.09 717.9 L1461.54 716.6 L1463.99 715.3 L1466.44 713.99 L1468.88 712.69 L1471.33 711.39 L1473.78 710.08 L1476.22 708.78 L1478.67 707.48 L1481.12 706.18 L1483.57 704.87 L1486.01 703.57 L1488.46 702.27 L1490.91 700.96 L1493.36 699.66 L1495.8 698.36 L1498.25 697.05 L1500.7 695.75 L1503.14 694.45 L1505.59 693.14 L1508.04 691.84 L1510.49 690.54 L1512.93 689.23 L1515.38 687.93 L1517.83 686.63 L1520.28 685.32 L1522.72 684.02 L1525.17 682.72 L1527.62 681.41 L1530.06 680.11 L1532.51 678.81" fill="none" stroke="#ef4040" stroke-width="7.0" stroke-linecap="round" stroke-linejoin="round" stroke-dasharray="23 32" stroke-dashoffset="39"/>
<path d="M1045.44 938.15 L1051.76 934.78 L1058.07 931.42 L1064.38 928.05 L1070.69 924.69 L1077 921.32 L1083.31 917.96 L1089.61 914.59 L1095.91 911.23 L1102.21 907.86 L1108.5 904.5 L1114.78 901.13 L1121.06 897.76 L1127.34 894.4 L1133.61 891.03 L1139.87 887.67 L1146.12 884.3 L1152.37 880.94 L1158.61 877.57 L1164.84 874.21 L1171.05 870.84 L1177.26 867.47 L1183.46 864.11 L1189.65 860.74 L1195.83 857.38 L1201.99 854.01 L1208.14 850.65 L1214.27 847.28 L1220.4 843.92 L1226.5 840.55 L1232.59 837.19 L1238.66 833.82 L1244.72 830.45 L1250.75 827.09 L1256.77 823.72 L1262.76 820.36 L1268.73 816.99 L1274.68 813.63 L1280.61 810.26 L1286.5 806.9 L1292.37 803.53 L1298.21 800.17 L1304.02 796.8 L1309.8 793.43 L1315.54 790.07 L1321.25 786.7 L1326.91 783.34 L1332.53 779.97 L1338.11 776.61 L1343.64 773.24 L1349.12 769.88 L1354.55 766.51 L1359.91 763.14 L1365.22 759.78 L1370.45 756.41 L1375.62 753.05 L1380.71 749.68 L1385.71 746.32 L1390.62 742.95 L1395.44 739.59 L1396.2 739.05 L1396.96 738.51 L1397.72 737.97 L1398.48 737.43 L1399.23 736.89 L1399.98 736.35 L1400.72 735.81 L1401.47 735.27 L1402.21 734.73 L1402.95 734.19 L1403.68 733.65 L1404.41 733.11 L1405.14 732.57 L1405.87 732.03 L1406.59 731.49 L1407.31 730.95 L1408.02 730.41 L1408.73 729.87 L1409.44 729.33 L1410.15 728.79 L1410.85 728.25 L1411.55 727.71 L1412.24 727.17 L1412.93 726.63 L1413.62 726.09 L1414.31 725.55 L1414.99 725.01 L1415.66 724.47 L1416.34 723.93 L1417 723.39 L1417.67 722.85 L1418.33 722.31 L1418.99 721.77 L1419.64 721.23 L1420.29 720.69 L1420.93 720.15 L1421.57 719.61 L1422.21 719.07 L1422.84 718.53 L1423.47 717.99 L1424.09 717.45 L1424.71 716.91 L1425.32 716.37 L1425.93 715.83 L1426.54 715.29 L1427.14 714.75 L1427.73 714.21 L1428.32 713.67 L1428.91 713.13 L1429.49 712.59 L1430.06 712.05 L1430.63 711.51 L1431.19 710.97 L1431.75 710.43 L1432.31 709.89 L1432.86 709.35 L1433.4 708.81 L1433.94 708.27 L1434.47 707.73 L1434.99 707.19 L1435.51 706.65 L1436.03 706.11 L1436.54 705.57 L1437.04 705.03 L1437.53 704.49 L1438.02 703.95 L1438.51 703.41 L1438.99 702.87 L1439.46 702.33 L1439.92 701.79 L1440.38 701.25 L1440.83 700.71 L1441.27 700.17 L1441.71 699.63 L1442.14 699.09 L1442.56 698.55 L1442.98 698.01 L1443.39 697.47 L1443.79 696.93 L1444.19 696.39 L1444.57 695.85 L1444.95 695.31 L1445.32 694.77 L1445.68 694.23 L1446.04 693.69 L1446.39 693.15 L1446.72 692.61 L1447.05 692.07 L1447.38 691.53 L1447.69 690.99 L1447.99 690.45 L1448.29 689.91 L1448.58 689.37 L1448.85 688.83 L1449.12 688.29 L1449.38 687.75 L1449.63 687.21 L1449.87 686.67 L1450.1 686.13 L1450.33 685.59 L1450.54 685.05 L1450.74 684.51 L1450.93 683.97 L1451.11 683.43 L1451.28 682.89 L1451.44 682.35 L1451.59 681.81 L1451.72 681.27 L1451.85 680.73 L1451.96 680.19 L1452.07 679.65 L1452.16 679.11 L1452.24 678.57 L1452.31 678.03 L1452.36 677.49 L1452.41 676.95 L1452.44 676.41 L1452.46 675.87 L1452.47 675.33" fill="none" stroke="#000" stroke-width="7.0" stroke-linecap="round" stroke-linejoin="round" />
<path d="M1045.5 938.15 L1047.95 936.85 L1050.39 935.54 L1052.84 934.24 L1055.29 932.94 L1057.74 931.63 L1060.18 930.33 L1062.63 929.03 L1065.08 927.72 L1067.53 926.42 L1069.97 925.12 L1072.42 923.81 L1074.87 922.51 L1077.31 921.2 L1079.76 919.9 L1082.21 918.59 L1084.66 917.29 L1087.1 915.99 L1089.55 914.68 L1092 913.38 L1094.45 912.07 L1096.89 910.76 L1099.34 909.46 L1101.79 908.15 L1104.24 906.85 L1106.68 905.54 L1109.13 904.23 L1111.58 902.92 L1114.02 901.62 L1116.47 900.31 L1118.92 899 L1121.37 897.69 L1123.81 896.38 L1126.26 895.07 L1128.71 893.76 L1131.16 892.45 L1133.6 891.14 L1136.05 889.83 L1138.5 888.52 L1140.94 887.21 L1143.39 885.89 L1145.84 884.58 L1148.29 883.27 L1150.73 881.95 L1153.18 880.64 L1155.63 879.32 L1158.08 878.01 L1160.52 876.69 L1162.97 875.38 L1165.42 874.06 L1167.86 872.74 L1170.31 871.42 L1172.76 870.1 L1175.21 868.78 L1177.65 867.46 L1180.1 866.14 L1182.55 864.82 L1185 863.5 L1187.44 862.18 L1189.89 860.85 L1192.34 859.53 L1194.79 858.2 L1197.23 856.88 L1199.68 855.55 L1202.13 854.23 L1204.57 852.9 L1207.02 851.57 L1209.47 850.24 L1211.92 848.91 L1214.36 847.58 L1216.81 846.25 L1219.26 844.91 L1221.71 843.58 L1224.15 842.25 L1226.6 840.91 L1229.05 839.57 L1231.49 838.24 L1233.94 836.9 L1236.39 835.56 L1238.84 834.22 L1241.28 832.88 L1243.73 831.54 L1246.18 830.2 L1248.63 828.85 L1251.07 827.51 L1253.52 826.16 L1255.97 824.82 L1258.41 823.47 L1260.86 822.12 L1263.31 820.77 L1265.76 819.42 L1268.2 818.07 L1270.65 816.71 L1273.1 815.36 L1275.55 814.01 L1277.99 812.65 L1280.44 811.29 L1282.89 809.93 L1285.34 808.57 L1287.78 807.21 L1290.23 805.85 L1292.68 804.49 L1295.12 803.12 L1297.57 801.76 L1300.02 800.39 L1302.47 799.02 L1304.91 797.65 L1307.36 796.28 L1309.81 794.91 L1312.26 793.54 L1314.7 792.16 L1317.15 790.79 L1319.6 789.41 L1322.04 788.03 L1324.49 786.65 L1326.94 785.27 L1329.39 783.89 L1331.83 782.51 L1334.28 781.12 L1336.73 779.74 L1339.18 778.35 L1341.62 776.96 L1344.07 775.57 L1346.52 774.18 L1348.96 772.78 L1351.41 771.39 L1353.86 769.99 L1356.31 768.59 L1358.75 767.19 L1361.2 765.79 L1363.65 764.39 L1366.1 762.98 L1368.54 761.58 L1370.99 760.17 L1373.44 758.76 L1375.89 757.35 L1378.33 755.94 L1380.78 754.53 L1383.23 753.11 L1385.67 751.69 L1388.12 750.28 L1390.57 748.86 L1393.02 747.43 L1395.46 746.01 L1397.91 744.58 L1400.36 743.16 L1402.81 741.73 L1405.25 740.3 L1407.7 738.87 L1410.15 737.43 L1412.59 736 L1415.04 734.56 L1417.49 733.12 L1419.94 731.68 L1422.38 730.24 L1424.83 728.79 L1427.28 727.34 L1429.73 725.9 L1432.17 724.45 L1434.62 722.99 L1437.07 721.54 L1439.51 720.08 L1441.96 718.63 L1444.41 717.17 L1446.86 715.7 L1449.3 714.24 L1451.75 712.78 L1454.2 711.31 L1456.65 709.84 L1459.09 708.37 L1461.54 706.89 L1463.99 705.42 L1466.44 703.94 L1468.88 702.46 L1471.33 700.98 L1473.78 699.49 L1476.22 698.01 L1478.67 696.52 L1481.12 695.03 L1483.57 693.54 L1486.01 692.04 L1488.46 690.55 L1490.91 689.05 L1493.36 687.55 L1495.8 686.05 L1498.25 684.54 L1500.7 683.03 L1503.14 681.52 L1505.59 680.01 L1508.04 678.5 L1510.49 676.98 L1512.93 675.46 L1515.38 673.94 L1517.83 672.42 L1520.28 670.9 L1522.72 669.37 L1525.17 667.84 L1527.62 666.31 L1530.06 664.77 L1532.51 663.24" fill="none" stroke="#0000ff" stroke-width="7.0" stroke-linecap="round" stroke-linejoin="round" />
<text x="1073.8" y="711.9" font-size="46.5" text-anchor="end" >(d)</text>
<text x="1595" y="810.9" font-size="42" text-anchor="end" font-weight="bold"><tspan font-weight="normal">Δ</tspan><tspan font-style="italic">ϕ</tspan>=<tspan font-weight="normal">π</tspan></text>
<rect x="1455" y="643.8" width="143.8" height="321.1" fill="#bbb" fill-opacity="0.4"/>
<line x1="1455" y1="643.8" x2="1455" y2="964.9" stroke="#a4a4a4" stroke-width="1.7" stroke-linecap="butt"/>
<text x="976.7" y="951.15" font-size="43.0" text-anchor="end" >0.0</text>
<text x="976.7" y="844.05" font-size="43.0" text-anchor="end" >0.2</text>
<text x="976.7" y="736.95" font-size="43.0" text-anchor="end" >0.4</text>
<path d="M1110 352.3 L1190.7 352.3" fill="none" stroke="#000" stroke-width="7.0" stroke-linecap="round" stroke-linejoin="round" />
<path d="M1110 397 L1190.7 397" fill="none" stroke="#ef4040" stroke-width="7.0" stroke-linecap="round" stroke-linejoin="round" stroke-dasharray="28 37"/>
<path d="M1110 442 L1190.7 442" fill="none" stroke="#0000ff" stroke-width="7.0" stroke-linecap="round" stroke-linejoin="round" />
<text x="1199.2" y="364.7" font-size="35.5" text-anchor="start" >PWE</text>
<text x="1199.2" y="409.4" font-size="35.5" text-anchor="start" >local EMT</text>
<text x="1199.2" y="453.8" font-size="35.5" text-anchor="start" >nonlocal EMT</text>
<rect x="995.2" y="1.0" width="603.6" height="321.5" fill="none" stroke="#000" stroke-width="3.5"/>
<rect x="995.2" y="322.5" width="603.6" height="321.3" fill="none" stroke="#000" stroke-width="3.5"/>
<rect x="995.2" y="643.8" width="603.6" height="321.1" fill="none" stroke="#000" stroke-width="3.5"/>
<text x="1045.5" y="1016.4" font-size="43.0" text-anchor="middle" >0.0</text>
<text x="1146.06" y="1016.4" font-size="43.0" text-anchor="middle" >0.1</text>
<text x="1246.62" y="1016.4" font-size="43.0" text-anchor="middle" >0.2</text>
<text x="1347.18" y="1016.4" font-size="43.0" text-anchor="middle" >0.3</text>
<text x="1447.74" y="1016.4" font-size="43.0" text-anchor="middle" >0.4</text>
<text x="1548.3" y="1016.4" font-size="43.0" text-anchor="middle" >0.5</text>
<text x="1212" y="1095.5" font-size="64" text-anchor="start" ><tspan font-style="italic">k</tspan> (<tspan font-style="italic">K</tspan>)</text>
<text x="0" y="0" font-size="64" text-anchor="middle" transform="translate(867.5 484) rotate(-90)"><tspan font-style="italic">Q</tspan>(<tspan font-weight="bold">Ω</tspan>)</text>
</g></svg>
</body></html>
